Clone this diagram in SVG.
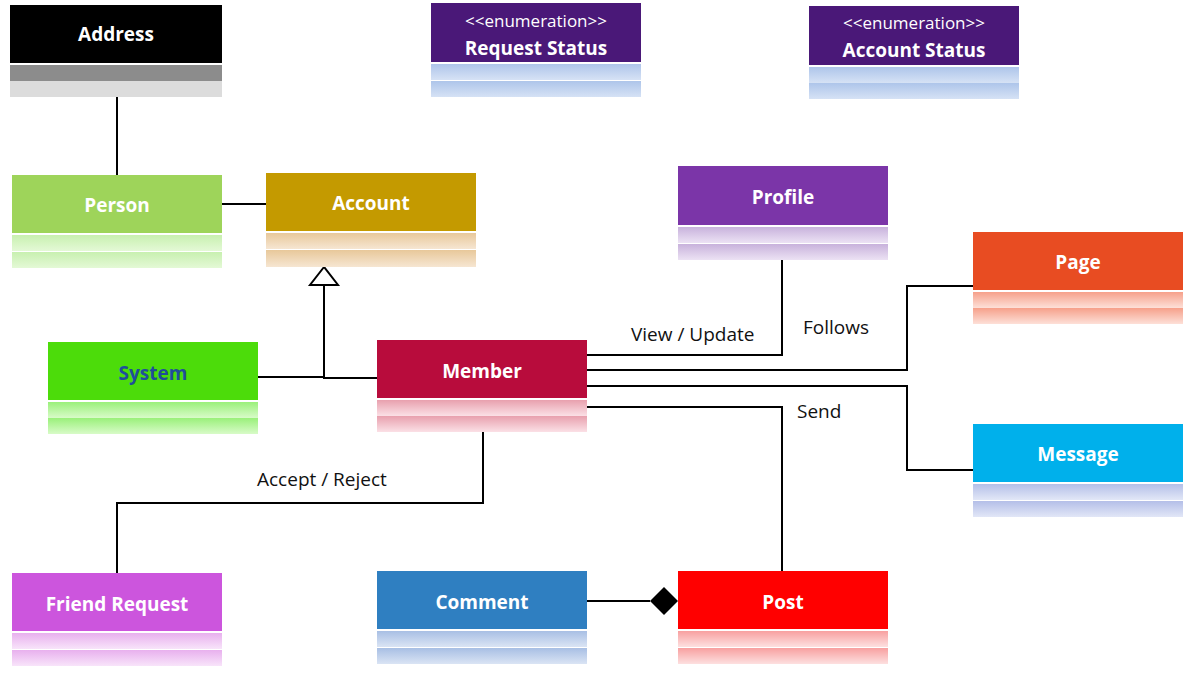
<svg xmlns="http://www.w3.org/2000/svg" width="1200" height="690" viewBox="0 0 1200 690">
<style>
.t{font-family:"Open Sans","Liberation Sans",sans-serif;font-weight:bold;font-size:19px;fill:#fff;text-anchor:middle}
.s{font-family:"Open Sans","Liberation Sans",sans-serif;font-size:17px;fill:#fff;text-anchor:middle}
.l{font-family:"Open Sans","Liberation Sans",sans-serif;font-size:19px;fill:#111}
.c{fill:none;stroke:#000;stroke-width:2}
</style>
<defs>
<linearGradient id="gGray" x1="0" y1="0" x2="0" y2="1"><stop offset="0" stop-color="#8a8a8a"/><stop offset="1" stop-color="#8a8a8a"/></linearGradient>
<linearGradient id="gBlue" x1="0" y1="0" x2="0" y2="1"><stop offset="0" stop-color="#aec5ea"/><stop offset="1" stop-color="#d6e2f5"/></linearGradient>
<linearGradient id="gGreen" x1="0" y1="0" x2="0" y2="1"><stop offset="0" stop-color="#c8f0b0"/><stop offset="1" stop-color="#e4f9d6"/></linearGradient>
<linearGradient id="gTan" x1="0" y1="0" x2="0" y2="1"><stop offset="0" stop-color="#e8c89a"/><stop offset="1" stop-color="#f6e6d2"/></linearGradient>
<linearGradient id="gLav" x1="0" y1="0" x2="0" y2="1"><stop offset="0" stop-color="#c8b2dc"/><stop offset="1" stop-color="#ece2f4"/></linearGradient>
<linearGradient id="gSal" x1="0" y1="0" x2="0" y2="1"><stop offset="0" stop-color="#f6a08a"/><stop offset="1" stop-color="#fde0d8"/></linearGradient>
<linearGradient id="gLime" x1="0" y1="0" x2="0" y2="1"><stop offset="0" stop-color="#9af07a"/><stop offset="1" stop-color="#d8fbc8"/></linearGradient>
<linearGradient id="gPink" x1="0" y1="0" x2="0" y2="1"><stop offset="0" stop-color="#e8a0ae"/><stop offset="1" stop-color="#fbe0e6"/></linearGradient>
<linearGradient id="gMsg" x1="0" y1="0" x2="0" y2="1"><stop offset="0" stop-color="#b4bfe8"/><stop offset="1" stop-color="#e2e7f7"/></linearGradient>
<linearGradient id="gFr" x1="0" y1="0" x2="0" y2="1"><stop offset="0" stop-color="#e8b0ee"/><stop offset="1" stop-color="#f8e4fa"/></linearGradient>
<linearGradient id="gCom" x1="0" y1="0" x2="0" y2="1"><stop offset="0" stop-color="#a8bfe4"/><stop offset="1" stop-color="#dae4f4"/></linearGradient>
<linearGradient id="gRed" x1="0" y1="0" x2="0" y2="1"><stop offset="0" stop-color="#f8a0a0"/><stop offset="1" stop-color="#fde0e0"/></linearGradient>
</defs>

<g id="connectors">
<path class="c" d="M117 97V175"/>
<path class="c" d="M222 204H266"/>
<path class="c" d="M324 285V378H377"/>
<path class="c" d="M258 377H324"/>
<polygon points="324,267 310,285 338,285" fill="#fff" stroke="#000" stroke-width="2"/>
<path class="c" d="M587 355H782V260"/>
<path class="c" d="M587 370H907V286H973"/>
<path class="c" d="M587 386H907V470H973"/>
<path class="c" d="M587 407H782V571"/>
<path class="c" d="M483 432V503H117V573"/>
<path class="c" d="M587 601H650"/>
<polygon points="650,601 664,587 678,601 664,615" fill="#000"/>
<text class="l" x="631" y="341">View / Update</text>
<text class="l" x="803" y="334">Follows</text>
<text class="l" x="797" y="418">Send</text>
<text class="l" x="257" y="486">Accept / Reject</text>
</g>

<g id="address"><rect x="10" y="5" width="212" height="58" fill="#000"/><rect x="10" y="65" width="212" height="16" fill="#8c8c8c"/><rect x="10" y="81" width="212" height="16" fill="#dcdcdc"/><text class="t" x="116" y="41">Address</text></g>
<g id="request-status"><rect x="431" y="3" width="210" height="59" fill="#4a1878"/><rect x="431" y="64" width="210" height="16" fill="url(#gBlue)"/><rect x="431" y="81" width="210" height="16" fill="url(#gBlue)"/><text class="s" x="536" y="27">&lt;&lt;enumeration&gt;&gt;</text><text class="t" x="536" y="55">Request Status</text></g>
<g id="account-status"><rect x="809" y="6" width="210" height="59" fill="#4a1878"/><rect x="809" y="67" width="210" height="16" fill="url(#gBlue)"/><rect x="809" y="83" width="210" height="16" fill="url(#gBlue)"/><text class="s" x="914" y="29">&lt;&lt;enumeration&gt;&gt;</text><text class="t" x="914" y="57">Account Status</text></g>
<g id="person"><rect x="12" y="175" width="210" height="58" fill="#9ed45a"/><rect x="12" y="235" width="210" height="16" fill="url(#gGreen)"/><rect x="12" y="252" width="210" height="16" fill="url(#gGreen)"/><text class="t" x="117" y="212">Person</text></g>
<g id="account"><rect x="266" y="173" width="210" height="58" fill="#c49a00"/><rect x="266" y="233" width="210" height="16" fill="url(#gTan)"/><rect x="266" y="250" width="210" height="17" fill="url(#gTan)"/><text class="t" x="371" y="210">Account</text></g>
<g id="profile"><rect x="678" y="166" width="210" height="59" fill="#7b35a8"/><rect x="678" y="227" width="210" height="16" fill="url(#gLav)"/><rect x="678" y="244" width="210" height="16" fill="url(#gLav)"/><text class="t" x="783" y="204">Profile</text></g>
<g id="page"><rect x="973" y="232" width="210" height="58" fill="#e84c22"/><rect x="973" y="292" width="210" height="16" fill="url(#gSal)"/><rect x="973" y="308" width="210" height="16" fill="url(#gSal)"/><text class="t" x="1078" y="269">Page</text></g>
<g id="system"><rect x="48" y="342" width="210" height="58" fill="#4cdc0a"/><rect x="48" y="402" width="210" height="16" fill="url(#gLime)"/><rect x="48" y="418" width="210" height="16" fill="url(#gLime)"/><text class="t" x="153" y="380" style="fill:#1f4e9a">System</text></g>
<g id="member"><rect x="377" y="340" width="210" height="58" fill="#b80c3c"/><rect x="377" y="400" width="210" height="16" fill="url(#gPink)"/><rect x="377" y="416" width="210" height="16" fill="url(#gPink)"/><text class="t" x="482" y="378">Member</text></g>
<g id="message"><rect x="973" y="424" width="210" height="58" fill="#00b0eb"/><rect x="973" y="484" width="210" height="16" fill="url(#gMsg)"/><rect x="973" y="501" width="210" height="16" fill="url(#gMsg)"/><text class="t" x="1078" y="461">Message</text></g>
<g id="friend-request"><rect x="12" y="573" width="210" height="58" fill="#cc55dd"/><rect x="12" y="633" width="210" height="16" fill="url(#gFr)"/><rect x="12" y="650" width="210" height="16" fill="url(#gFr)"/><text class="t" x="117" y="611">Friend Request</text></g>
<g id="comment"><rect x="377" y="571" width="210" height="58" fill="#2f7fc1"/><rect x="377" y="631" width="210" height="16" fill="url(#gCom)"/><rect x="377" y="648" width="210" height="16" fill="url(#gCom)"/><text class="t" x="482" y="609">Comment</text></g>
<g id="post"><rect x="678" y="571" width="210" height="58" fill="#ff0000"/><rect x="678" y="631" width="210" height="16" fill="url(#gRed)"/><rect x="678" y="648" width="210" height="16" fill="url(#gRed)"/><text class="t" x="783" y="609">Post</text></g>
</svg>
